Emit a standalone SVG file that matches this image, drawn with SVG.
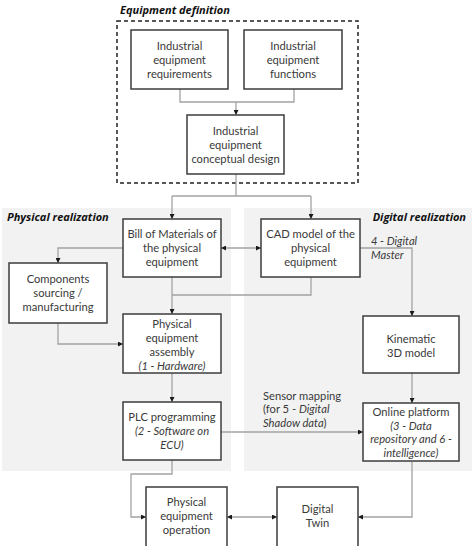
<svg xmlns="http://www.w3.org/2000/svg" width="474" height="546" viewBox="0 0 474 546">
<style>
.box{fill:#fff;stroke:#3c3c3c;stroke-width:1.5}
.t{font-family:Lato,"Liberation Sans",sans-serif;font-size:11.2px;fill:#3a3a3a;text-anchor:middle}
.i{font-style:italic}
.h{font-family:"Open Sans","Liberation Sans",sans-serif;font-size:11px;font-weight:bold;font-style:italic;fill:#111}
.c{fill:none;stroke:#a3a3a3;stroke-width:1.3}
.l{font-family:Lato,"Liberation Sans",sans-serif;font-size:11.2px;fill:#3a3a3a}
</style>
<defs>
<marker id="a" viewBox="0 0 6 6" refX="6" refY="3" markerWidth="5" markerHeight="5" orient="auto" markerUnits="userSpaceOnUse">
<path d="M0,0 L6,3 L0,6 z" fill="#1a1a1a"/>
</marker>
<marker id="s" viewBox="0 0 6 6" refX="0" refY="3" markerWidth="5" markerHeight="5" orient="auto" markerUnits="userSpaceOnUse">
<path d="M6,0 L0,3 L6,6 z" fill="#1a1a1a"/>
</marker>
</defs>
<rect x="0" y="0" width="474" height="546" fill="#fff"/>
<g id="panels">
<rect x="2" y="208" width="229" height="263" fill="#f2f2f2"/>
<rect x="244" y="208" width="228" height="263" fill="#f2f2f2"/>
<text class="h" x="7" y="221">Physical realization</text>
<text class="h" x="466" y="221" text-anchor="end">Digital realization</text>
</g>
<g id="equipment-definition">
<rect x="117" y="21" width="241" height="162" fill="none" stroke="#222" stroke-width="1.5" stroke-dasharray="4,3"/>
<text class="h" x="120" y="14">Equipment definition</text>
</g>
<g id="connectors">
<path class="c" d="M180,89 V102 H294 V89"/>
<path class="c" d="M236,102 V115" marker-end="url(#a)"/>
<path class="c" d="M236,174 V196"/>
<path class="c" d="M172,196 H311"/>
<path class="c" d="M172,196 V219" marker-end="url(#a)"/>
<path class="c" d="M311,196 V219" marker-end="url(#a)"/>
<path class="c" d="M221,248 H261" marker-start="url(#s)" marker-end="url(#a)"/>
<path class="c" d="M123,248 H58 V263" marker-end="url(#a)"/>
<path class="c" d="M172,277 V314" marker-end="url(#a)"/>
<path class="c" d="M311,277 V295 H172"/>
<path class="c" d="M58,323 V344 H123" marker-end="url(#a)"/>
<path class="c" d="M360,248 H412 V316" marker-end="url(#a)"/>
<path class="c" d="M412,373 V403" marker-end="url(#a)"/>
<path class="c" d="M172,373 V402" marker-end="url(#a)"/>
<path class="c" d="M221,432 H363" marker-end="url(#a)"/>
<path class="c" d="M172,460 V474 H131 V517 H146" marker-end="url(#a)"/>
<path class="c" d="M227,517 H277" marker-start="url(#s)" marker-end="url(#a)"/>
<path class="c" d="M412,461 V517 H358" marker-end="url(#a)"/>
<text class="l i" x="371" y="245">4 - Digital</text>
<text class="l i" x="371" y="259">Master</text>
<text class="l" x="263" y="400">Sensor mapping</text>
<text class="l" x="263" y="413">(for 5 - <tspan class="i">Digital</tspan></text>
<text class="l" x="263" y="427"><tspan class="i">Shadow data</tspan>)</text>
</g>
<g id="requirements">
<rect class="box" x="131" y="30" width="97" height="59"/>
<text class="t" x="179.5" y="49.5">Industrial</text>
<text class="t" x="179.5" y="63.5">equipment</text>
<text class="t" x="179.5" y="77.5">requirements</text>
</g>
<g id="functions">
<rect class="box" x="244" y="30" width="98" height="59"/>
<text class="t" x="293" y="49.5">Industrial</text>
<text class="t" x="293" y="63.5">equipment</text>
<text class="t" x="293" y="77.5">functions</text>
</g>
<g id="conceptual-design">
<rect class="box" x="187" y="115" width="97" height="59"/>
<text class="t" x="235.5" y="134.5">Industrial</text>
<text class="t" x="235.5" y="148.5">equipment</text>
<text class="t" x="235.5" y="162.5">conceptual design</text>
</g>
<g id="bom">
<rect class="box" x="123" y="219" width="98" height="58"/>
<text class="t" x="172" y="238">Bill of Materials of</text>
<text class="t" x="172" y="252">the physical</text>
<text class="t" x="172" y="266">equipment</text>
</g>
<g id="cad">
<rect class="box" x="261" y="219" width="99" height="58"/>
<text class="t" x="310.5" y="238">CAD model of the</text>
<text class="t" x="310.5" y="252">physical</text>
<text class="t" x="310.5" y="266">equipment</text>
</g>
<g id="components">
<rect class="box" x="9" y="263" width="98" height="60"/>
<text class="t" x="58" y="283">Components</text>
<text class="t" x="58" y="297">sourcing /</text>
<text class="t" x="58" y="311">manufacturing</text>
</g>
<g id="assembly">
<rect class="box" x="123" y="314" width="98" height="59"/>
<text class="t" x="172" y="328">Physical</text>
<text class="t" x="172" y="342">equipment</text>
<text class="t" x="172" y="356">assembly</text>
<text class="t i" x="172" y="370">(1 - Hardware)</text>
</g>
<g id="kinematic">
<rect class="box" x="363" y="316" width="96" height="57"/>
<text class="t" x="411" y="343">Kinematic</text>
<text class="t" x="411" y="357">3D model</text>
</g>
<g id="plc">
<rect class="box" x="123" y="402" width="98" height="58"/>
<text class="t" x="172" y="421">PLC programming</text>
<text class="t i" x="172" y="435">(2 - Software on</text>
<text class="t i" x="172" y="449">ECU)</text>
</g>
<g id="online-platform">
<rect class="box" x="363" y="403" width="96" height="58"/>
<text class="t" x="411" y="416">Online platform</text>
<text class="t i" x="411" y="429.5">(3 - Data</text>
<text class="t i" x="411" y="443">repository and 6 -</text>
<text class="t i" x="411" y="456.5">intelligence)</text>
</g>
<g id="physical-operation">
<rect class="box" x="146" y="487" width="81" height="62"/>
<text class="t" x="186.5" y="506">Physical</text>
<text class="t" x="186.5" y="520">equipment</text>
<text class="t" x="186.5" y="534">operation</text>
</g>
<g id="digital-twin">
<rect class="box" x="277" y="487" width="81" height="62"/>
<text class="t" x="317.5" y="513">Digital</text>
<text class="t" x="317.5" y="527">Twin</text>
</g>
</svg>
